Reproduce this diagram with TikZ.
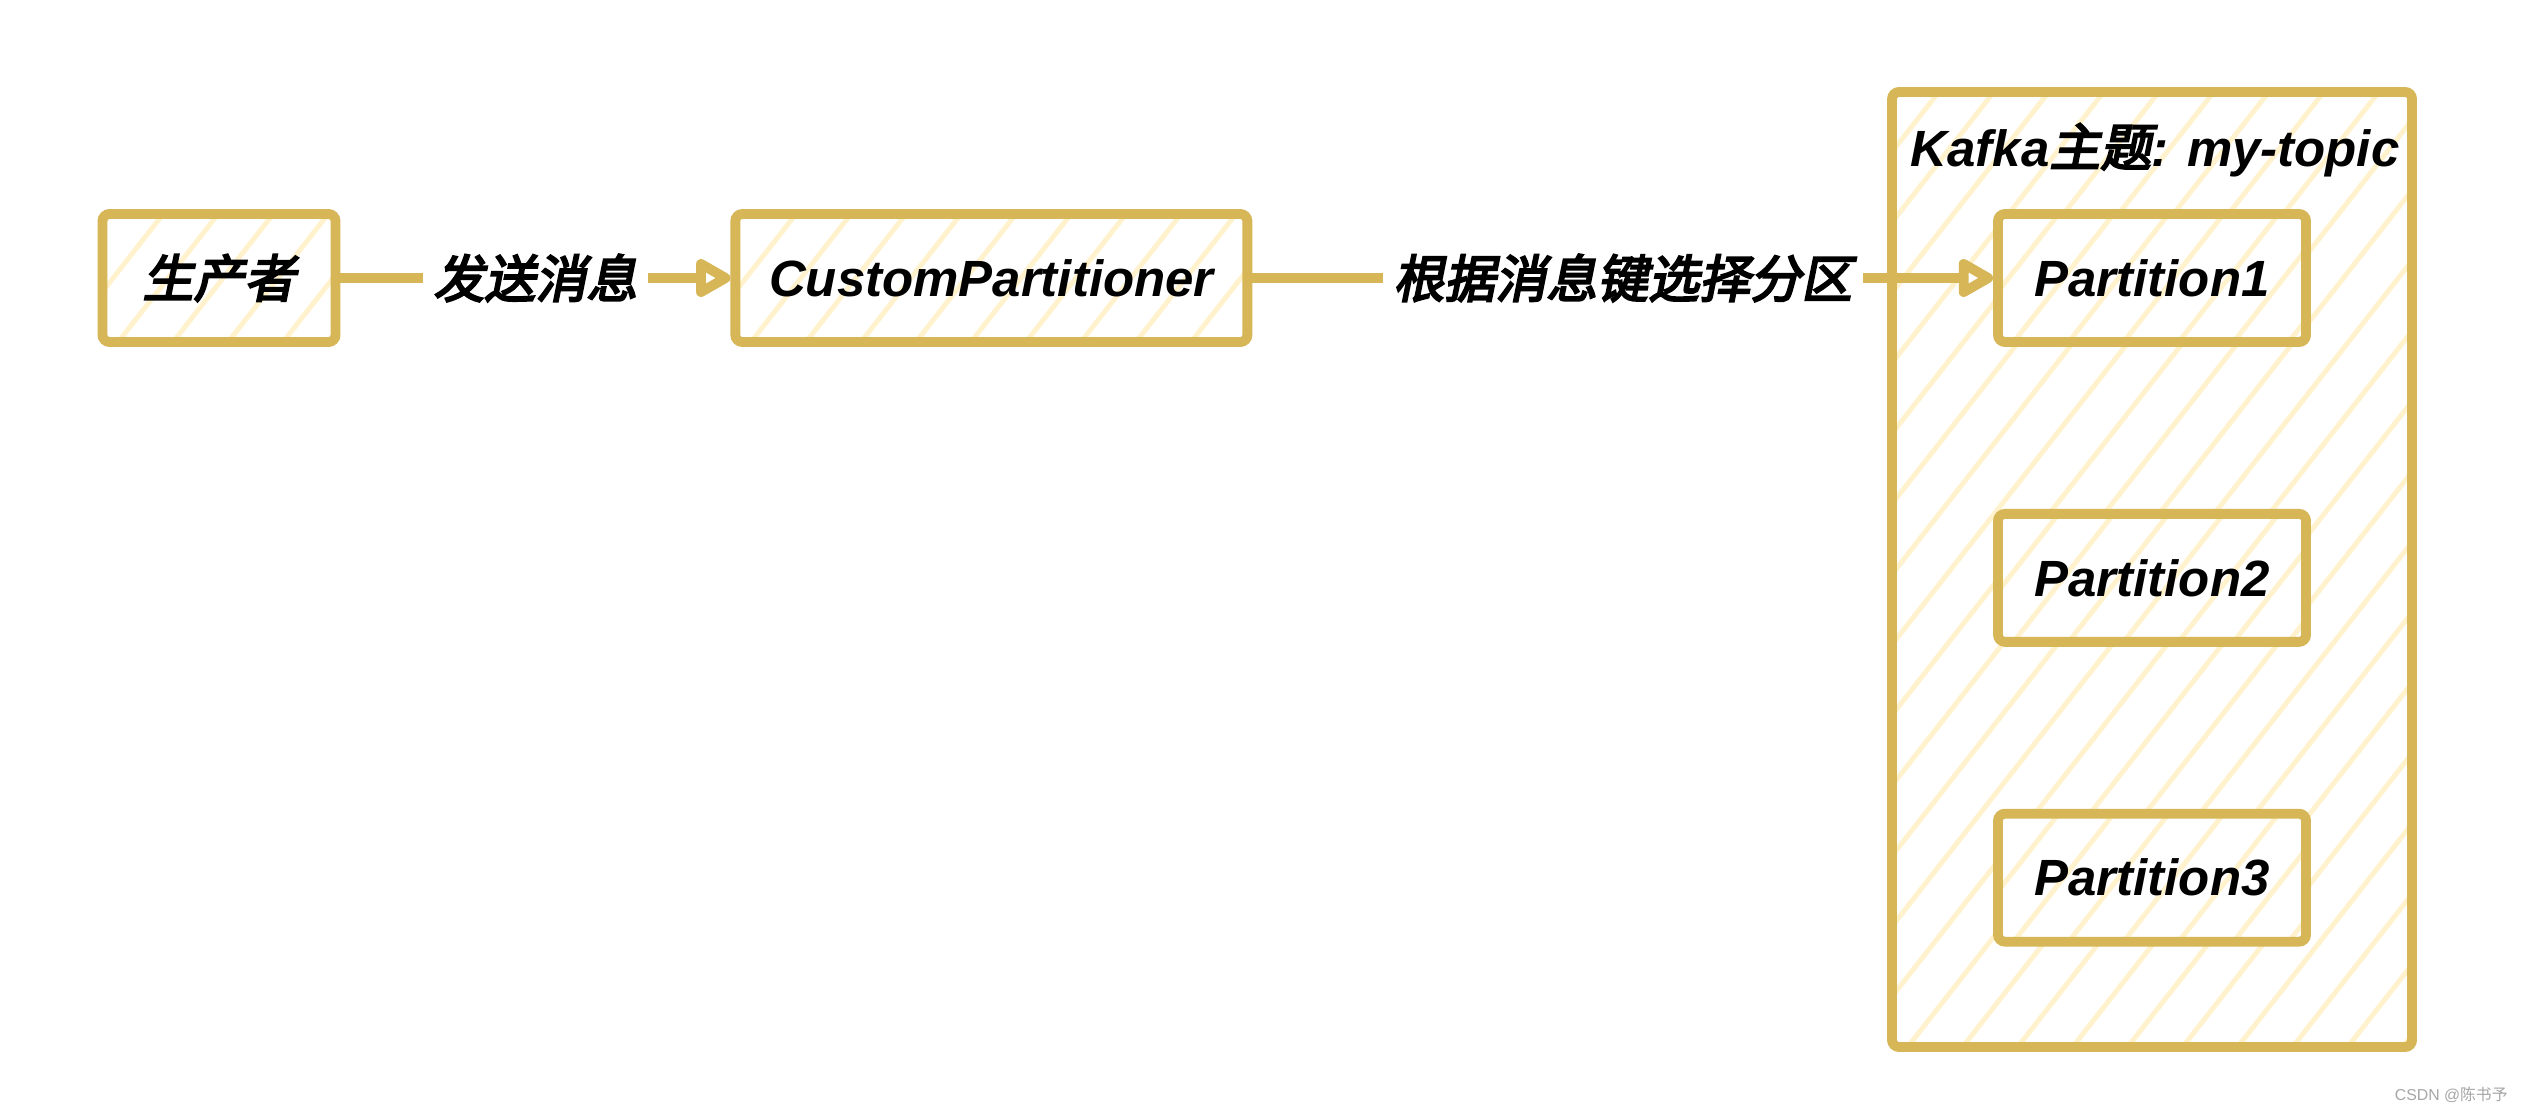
\documentclass[tikz,border=0pt]{standalone}
\usepackage{fontspec}
\setmainfont{Liberation Sans}
\newfontfamily\cjk{Noto Sans CJK SC}[FakeSlant=0.2,FakeBold=4]
\newfontfamily\cjkplain{Noto Sans CJK SC}
\usetikzlibrary{arrows.meta, positioning, calc}
\definecolor{gold}{HTML}{D6B656}
\definecolor{hatchy}{HTML}{FFF2CC}
\newcommand{\zh}[1]{{\cjk\mdseries\upshape #1}}
\newcommand{\lblfont}{\fontsize{14.5}{17}\selectfont\bfseries\itshape}
\tikzstyle{line} = [draw=gold, -{Triangle[open,round,length=4mm,width=4.2mm]}, line width=2.8pt]

\begin{document}
\begin{tikzpicture}[hatched/.style={path picture={
      \foreach \k in {-15,...,10}
        \draw[hatchy, line width=1.4pt] ($(path picture bounding box.south west)+(\k*0.55,-0.2)$) -- ++(52:14);}},
    box/.style={draw=gold, line width=2.8pt, rounded corners=2pt, fill=white, hatched, minimum height=1.28cm, inner sep=0pt, font=\lblfont},
    lbl/.style={fill=white, inner sep=3pt, font=\lblfont}]

    \fill[white] (0,0) rectangle (25.38,11.16);
    \useasboundingbox (0,0) rectangle (25.38,11.16);

    % producer and partitioner
    \node[box, minimum width=2.33cm] (prod) at (2.19,8.38) {\zh{生产者}};
    \node[box, minimum width=5.12cm, right=3.9cm of prod] (cp) {CustomPartitioner};

    % the topic with its partitions
    \node[box, minimum width=5.2cm, minimum height=9.55cm] (topic) at (21.52,5.465) {};
    \node[font=\lblfont] (title) at (21.55,9.66) {Kafka\zh{主题}: my-topic};
    \node[box, minimum width=3.08cm] (p1) at (21.52,8.38) {Partition1};
    \node[box, minimum width=3.08cm, below=1.62cm of p1] (p2) {Partition2};
    \node[box, minimum width=3.08cm, below=1.62cm of p2] (p3) {Partition3};

    \draw[line] (prod) -- node[lbl] {\zh{发送消息}} (cp);
    \draw[line] (cp) -- node[lbl] {\zh{根据消息键选择分区}} (p1);

    \node[anchor=east, text=gray!70, font=\fontsize{4.5}{5}\selectfont] (mark) at (25.2,0.21) {CSDN @{\cjkplain 陈书予}};

\end{tikzpicture}
\end{document}
